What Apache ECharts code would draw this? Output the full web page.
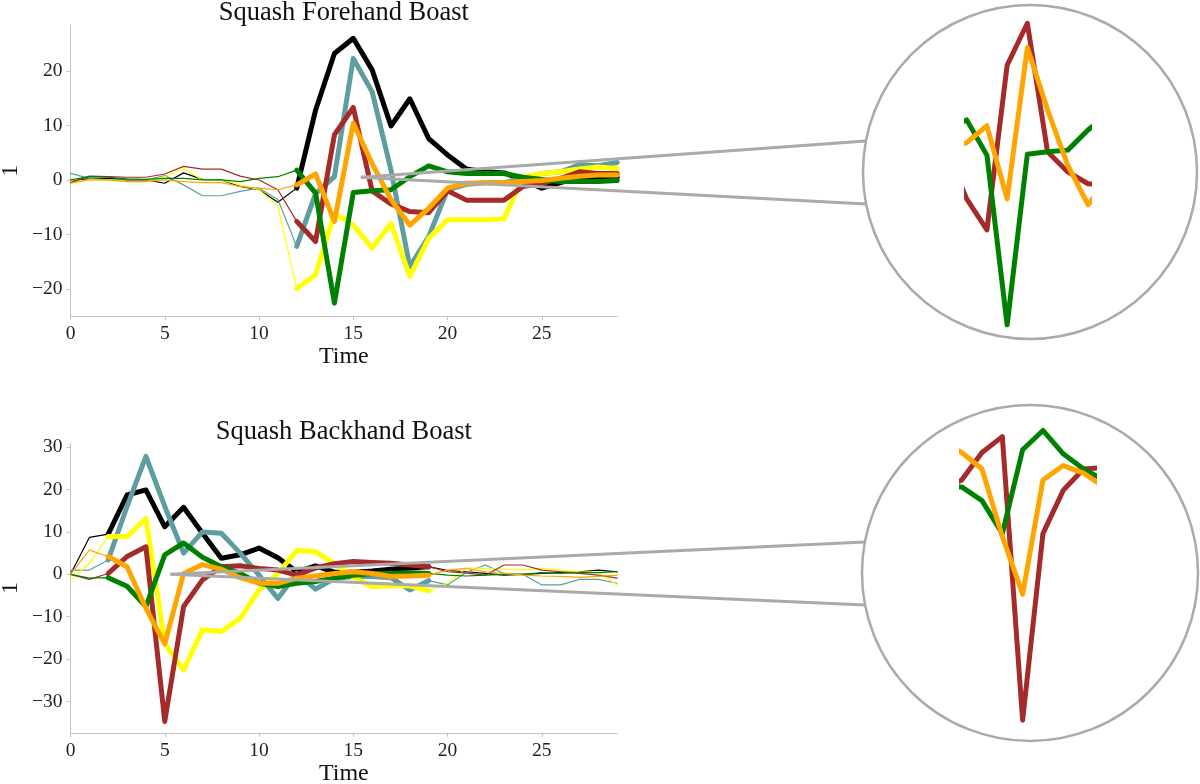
<!DOCTYPE html>
<html><head><meta charset="utf-8">
<script src="https://cdn.jsdelivr.net/npm/echarts@6/dist/echarts.min.js"></script>
<style>html,body{margin:0;padding:0;background:#fff}#c{width:1200px;height:784px}</style>
</head><body><div id="c"></div>
<script>
// ---- data ----
const timeSteps = Array.from({length: 30}, (_, i) => i);
const xTicks = [0, 5, 10, 15, 20, 25];
const topYTicks = [-20, -10, 0, 10, 20];
const bottomYTicks = [-30, -20, -10, 0, 10, 20, 30];

const topTitle = 'Squash Forehand Boast';
const bottomTitle = 'Squash Backhand Boast';

// Forehand boast
const fhBlack  = [-0.3, 0.3, 0.3, 0, 0, -0.6, 1.3, 0.1, 0, -1.2, -1.8, -4.1, -1.5, 12.8, 23.2, 26, 20.2, 9.9, 14.9, 7.6, 4.6, 2.0, 1.5, 1.3, 0, -1.5, -0.5, 0.5, 0.5, 0.5];
const fhTeal   = [1.2, 0.3, 0, 0, 0, 0.8, -0.9, -2.9, -2.9, -2.1, -1.5, -3.6, -12.2, -2.5, 0.6, 22.3, 16.2, 1.8, -15.9, -10.4, -1.8, -0.8, -0.5, -0.5, 0.3, 1.2, 1.5, 2.8, 2.6, 3.2];
const fhYellow = [-0.3, 0, 0, -0.3, -0.3, 0.6, 2.1, 0, 0, -0.9, -1.8, -4.8, -19.9, -17.4, -6.1, -8.3, -12.5, -8, -17.7, -10.7, -7.3, -7.3, -7.3, -7.1, 0.5, 1.2, 1.5, 2.0, 2.4, 2.1];
const fhRed    = [-0.5, 0.7, 0.6, 0.5, 0.5, 1.1, 2.5, 2.0, 2.0, 0.7, 0, -1.8, -7.6, -11.3, 8.3, 13.3, -2.0, -4.4, -5.8, -6.0, -2.0, -3.7, -3.7, -3.7, -1.2, -0.6, 0.3, 1.5, 1.2, 1.2];
const fhGreen  = [0, 0.6, 0.5, 0.2, 0.1, 0.3, 0.3, 0, 0, -0.3, 0.3, 0.6, 1.8, -2.4, -22.6, -2.3, -2.0, -1.8, 0.6, 2.6, 1.5, 1.2, 1.2, 1.2, 0.5, 0.1, -0.3, -0.3, -0.3, -0.1];
const fhOrange = [-0.6, 0, 0, -0.3, -0.3, 0, -0.3, -0.5, -0.5, -1.2, -1.5, -1.8, -0.9, 1.1, -7.6, 10.4, 3.0, -3.6, -8.3, -5.2, -1.5, -0.6, -0.5, -0.5, -0.3, -0.1, 0.3, 0.7, 0.9, 0.9];

// Backhand boast
const bhBlack  = [0, 8.7, 9.5, 18.7, 19.9, 11.2, 15.8, 9.7, 3.8, 4.6, 6.2, 3.9, 0.6, 2.0, 0.5, 0.5, 0.8, 1.2, 1.5, 1.8, 0.9, 0.6, 0.2, -0.2, 0, 0.2, 0.4, 0.6, 1.0, 0.6];
const bhTeal   = [1, 1, 3.4, 16, 27.8, 16, 5, 10, 9.7, 5, -0.2, -5.7, 0.2, -3.5, -1.0, -0.5, -0.5, -0.8, -3.7, -1.5, -2.5, 0.5, 2.2, 0.2, 0, -2.5, -2.5, -1.2, -1.2, -2.1];
const bhYellow = [-1.3, 2.6, 8.9, 8.9, 13.2, -16.3, -22.6, -13.1, -13.5, -10.4, -3.7, 0.2, 5.6, 5.3, 2.6, -0.7, -2.9, -2.7, -2.7, -3.9, -2.1, 1.5, 1.4, 1.2, 1.0, 1.4, 1.0, 0.6, 0.5, -2.5];
const bhRed    = [0, -1.2, 0.2, 4.2, 6.5, -34.7, -7.6, -1.3, 1.8, 2.0, 1.4, 1.0, -0.2, 1.5, 2.5, 3.0, 2.8, 2.6, 2.2, 1.8, 0.6, 0.3, -0.2, 2.2, 2.2, 1.0, 0.6, 0.2, -0.2, -0.9];
const bhGreen  = [0, -0.9, -0.8, -2.8, -7.6, 4.6, 7.4, 4.0, 1.8, 0.2, -2.1, -2.9, -2.1, -1.7, -0.9, -0.2, 0.2, 0.2, 0.4, 0.2, -0.2, -0.4, -0.2, 0, 0, 0.4, 0.2, 0.4, 0.4, 0.6];
const bhOrange = [0, 5.7, 4.2, 1.8, -8.0, -16.4, 0.2, 2.3, 1.2, -0.8, -2.1, -2.1, -0.9, -0.4, 0.2, 0.6, 0.2, -0.5, -0.4, -0.2, 1.0, 1.4, 0.6, 0.2, -0.2, -0.4, -0.5, -0.7, -0.5, -0.2];

// highlighted (thick) index ranges
const fhThickRange = [12, 29];
const bhThickRange = [2, 19];
// zoomed windows
const fhZoomX = [12, 18];
const bhZoomX = [2, 8.5];
// cone apex in data coords
const fhApex = [15.4, 0.5];
const bhApex = [5.3, 0];

// ---- styling ----
const FONT = 'Liberation Serif';
const COLORS = {black: '#000000', teal: '#5f9ea0', yellow: '#ffff00', red: '#a52a2a', green: '#008000', orange: '#ffa500'};
const AX = '#c4c4c4';
const minus = v => (v < 0 ? '\u2212' + Math.abs(v) : String(v));

const chart = echarts.init(document.getElementById('c'), null, {renderer: 'canvas'});

const pts = arr => arr.map((v, i) => [timeSteps[i], v]);
const slicePts = (arr, r) => arr.slice(r[0], r[1] + 1).map((v, k) => [timeSteps[r[0] + k], v]);

const grids = [
  {left: 70.5, top: 25.2, width: 546.7, height: 291},
  {left: 70.5, top: 443.3, width: 546.7, height: 289.6},
  {left: 966.7, top: 0.6, width: 121.3, height: 336},
  {left: 961.7, top: 398.8, width: 132, height: 337.2}
].map(g => Object.assign({outerBoundsMode: 'none', containLabel: false, show: false}, g));

function mainX(gi) {
  return {
    type: 'value', gridIndex: gi, min: 0, max: 29, interval: 5,
    axisLine: {onZero: false, lineStyle: {color: AX, width: 1}},
    axisTick: {show: true, length: 4, lineStyle: {color: AX}, customValues: xTicks},
    axisLabel: {color: '#222', fontFamily: FONT, fontSize: 19.5, margin: 8, customValues: xTicks},
    splitLine: {show: false},
    name: 'Time', nameLocation: 'middle', nameGap: 29,
    nameTextStyle: {fontFamily: FONT, fontSize: 24, color: '#111'}
  };
}
function mainY(gi, min, max, ticks) {
  return {
    type: 'value', gridIndex: gi, min: min, max: max,
    axisLine: {show: true, onZero: false, lineStyle: {color: AX, width: 1}},
    axisTick: {show: true, length: 4, lineStyle: {color: AX}, customValues: ticks},
    axisLabel: {color: '#222', fontFamily: FONT, fontSize: 19.5, margin: 8, customValues: ticks, formatter: minus},
    splitLine: {show: false},
    name: '1', nameLocation: 'middle', nameGap: 48, nameRotate: 90,
    nameTextStyle: {fontFamily: FONT, fontSize: 24, color: '#111'}
  };
}
const hiddenX = (gi, r) => ({type: 'value', gridIndex: gi, min: r[0], max: r[1], show: false});
const hiddenY = (gi, min, max) => ({type: 'value', gridIndex: gi, min: min, max: max, show: false});

const fhSets = [['black', fhBlack], ['teal', fhTeal], ['yellow', fhYellow], ['red', fhRed], ['green', fhGreen], ['orange', fhOrange]];
const bhSets = [['black', bhBlack], ['teal', bhTeal], ['yellow', bhYellow], ['red', bhRed], ['green', bhGreen], ['orange', bhOrange]];

function line(ax, data, color, w) {
  return {type: 'line', xAxisIndex: ax, yAxisIndex: ax, data: data, symbol: 'none', silent: true,
    lineStyle: {color: color, width: w, join: 'round', cap: 'round'}, clip: true, animation: false};
}

const series = [];
fhSets.forEach(([c, a]) => series.push(line(0, pts(a), COLORS[c], 1.2)));
fhSets.forEach(([c, a]) => series.push(line(0, slicePts(a, fhThickRange), COLORS[c], 5)));
bhSets.forEach(([c, a]) => series.push(line(1, pts(a), COLORS[c], 1.2)));
bhSets.forEach(([c, a]) => series.push(line(1, slicePts(a, bhThickRange), COLORS[c], 5)));
// insets: red, green, orange
[['red', fhRed], ['green', fhGreen], ['orange', fhOrange]].forEach(([c, a]) => series.push(line(2, pts(a), COLORS[c], 5)));
[['red', bhRed], ['green', bhGreen], ['orange', bhOrange]].forEach(([c, a]) => series.push(line(3, pts(a), COLORS[c], 5)));

chart.setOption({
  backgroundColor: '#fff',
  animation: false,
  grid: grids,
  xAxis: [mainX(0), mainX(1), hiddenX(2, fhZoomX), hiddenX(3, bhZoomX)],
  yAxis: [mainY(0, -25, 28.4, topYTicks), mainY(1, -37.4, 30.9, bottomYTicks), hiddenY(2, -24, 16), hiddenY(3, -37, 12)],
  series: series
});

// decorations: titles, magnifier circles and cones
const circles = [{cx: 1030, cy: 172, r: 167}, {cx: 1030, cy: 573, r: 168}];
const apexPx = [chart.convertToPixel({gridIndex: 0}, fhApex), chart.convertToPixel({gridIndex: 1}, bhApex)];
const GREY = '#aaaaaa';
const gfx = [];
circles.forEach((c, i) => {
  gfx.push({type: 'circle', z: 100, shape: {cx: c.cx, cy: c.cy, r: c.r}, style: {fill: null, stroke: GREY, lineWidth: 2.5}, silent: true});
  [-31, 32].forEach(dy => {
    const x2 = c.cx - Math.sqrt(c.r * c.r - dy * dy);
    gfx.push({type: 'line', z: 100, shape: {x1: apexPx[i][0], y1: apexPx[i][1], x2: x2, y2: c.cy + dy},
      style: {stroke: GREY, lineWidth: 3}, silent: true});
  });
});
const titleX = grids[0].left + grids[0].width / 2;
gfx.push({type: 'text', z: 100, x: titleX, y: 13.5, style: {text: topTitle, font: '26.5px "' + FONT + '"', fill: '#111', align: 'center', verticalAlign: 'middle'}});
gfx.push({type: 'text', z: 100, x: titleX, y: 432, style: {text: bottomTitle, font: '26.5px "' + FONT + '"', fill: '#111', align: 'center', verticalAlign: 'middle'}});
chart.setOption({graphic: gfx});
</script></body></html>
